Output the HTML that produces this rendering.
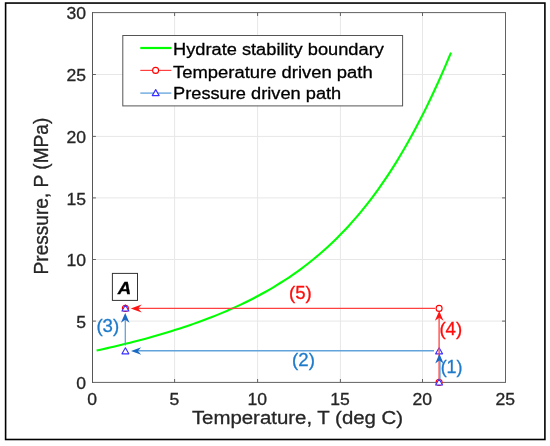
<!DOCTYPE html>
<html><head><meta charset="utf-8"><title>Hydrate stability</title>
<style>html,body{margin:0;padding:0;background:#fff}svg{display:block}text{font-family:"Liberation Sans", sans-serif}</style></head><body>
<svg width="550" height="446" viewBox="0 0 550 446">
<rect x="0" y="0" width="550" height="446" fill="#fff"/>
<rect x="5.60" y="3.05" width="539.30" height="436.45" fill="none" stroke="#000" stroke-width="1.6"/>
<line x1="174.60" y1="382.40" x2="174.60" y2="12.60" stroke="#e7e7e7" stroke-width="1"/>
<line x1="257.60" y1="382.40" x2="257.60" y2="12.60" stroke="#e7e7e7" stroke-width="1"/>
<line x1="340.40" y1="382.40" x2="340.40" y2="12.60" stroke="#e7e7e7" stroke-width="1"/>
<line x1="422.50" y1="382.40" x2="422.50" y2="12.60" stroke="#e7e7e7" stroke-width="1"/>
<line x1="92.50" y1="321.10" x2="505.50" y2="321.10" stroke="#e7e7e7" stroke-width="1"/>
<line x1="92.50" y1="259.50" x2="505.50" y2="259.50" stroke="#e7e7e7" stroke-width="1"/>
<line x1="92.50" y1="197.90" x2="505.50" y2="197.90" stroke="#e7e7e7" stroke-width="1"/>
<line x1="92.50" y1="136.40" x2="505.50" y2="136.40" stroke="#e7e7e7" stroke-width="1"/>
<line x1="92.50" y1="74.50" x2="505.50" y2="74.50" stroke="#e7e7e7" stroke-width="1"/>
<rect x="92.50" y="12.60" width="413.00" height="369.80" fill="none" stroke="#626262" stroke-width="1"/>
<line x1="92.50" y1="12.10" x2="92.50" y2="382.90" stroke="#565656"/>
<line x1="174.60" y1="382.40" x2="174.60" y2="379.00" stroke="#626262"/>
<line x1="174.60" y1="12.60" x2="174.60" y2="16.00" stroke="#626262"/>
<line x1="257.60" y1="382.40" x2="257.60" y2="379.00" stroke="#626262"/>
<line x1="257.60" y1="12.60" x2="257.60" y2="16.00" stroke="#626262"/>
<line x1="340.40" y1="382.40" x2="340.40" y2="379.00" stroke="#626262"/>
<line x1="340.40" y1="12.60" x2="340.40" y2="16.00" stroke="#626262"/>
<line x1="422.50" y1="382.40" x2="422.50" y2="379.00" stroke="#626262"/>
<line x1="422.50" y1="12.60" x2="422.50" y2="16.00" stroke="#626262"/>
<line x1="92.50" y1="321.10" x2="95.90" y2="321.10" stroke="#626262"/>
<line x1="505.50" y1="321.10" x2="502.10" y2="321.10" stroke="#626262"/>
<line x1="92.50" y1="259.50" x2="95.90" y2="259.50" stroke="#626262"/>
<line x1="505.50" y1="259.50" x2="502.10" y2="259.50" stroke="#626262"/>
<line x1="92.50" y1="197.90" x2="95.90" y2="197.90" stroke="#626262"/>
<line x1="505.50" y1="197.90" x2="502.10" y2="197.90" stroke="#626262"/>
<line x1="92.50" y1="136.40" x2="95.90" y2="136.40" stroke="#626262"/>
<line x1="505.50" y1="136.40" x2="502.10" y2="136.40" stroke="#626262"/>
<line x1="92.50" y1="74.50" x2="95.90" y2="74.50" stroke="#626262"/>
<line x1="505.50" y1="74.50" x2="502.10" y2="74.50" stroke="#626262"/>
<text transform="translate(92.20 405.20) scale(1.060 1.000)" font-size="16.6" fill="#262626" stroke="#262626" stroke-width="0.3" text-anchor="middle">0</text>
<text transform="translate(174.30 405.20) scale(1.060 1.000)" font-size="16.6" fill="#262626" stroke="#262626" stroke-width="0.3" text-anchor="middle">5</text>
<text transform="translate(257.30 405.20) scale(1.060 1.000)" font-size="16.6" fill="#262626" stroke="#262626" stroke-width="0.3" text-anchor="middle">10</text>
<text transform="translate(340.10 405.20) scale(1.060 1.000)" font-size="16.6" fill="#262626" stroke="#262626" stroke-width="0.3" text-anchor="middle">15</text>
<text transform="translate(422.20 405.20) scale(1.060 1.000)" font-size="16.6" fill="#262626" stroke="#262626" stroke-width="0.3" text-anchor="middle">20</text>
<text transform="translate(505.20 405.20) scale(1.060 1.000)" font-size="16.6" fill="#262626" stroke="#262626" stroke-width="0.3" text-anchor="middle">25</text>
<text transform="translate(86.00 389.10) scale(1.060 1.000)" font-size="16.6" fill="#262626" stroke="#262626" stroke-width="0.3" text-anchor="end">0</text>
<text transform="translate(86.00 327.80) scale(1.060 1.000)" font-size="16.6" fill="#262626" stroke="#262626" stroke-width="0.3" text-anchor="end">5</text>
<text transform="translate(86.00 266.20) scale(1.060 1.000)" font-size="16.6" fill="#262626" stroke="#262626" stroke-width="0.3" text-anchor="end">10</text>
<text transform="translate(86.00 204.60) scale(1.060 1.000)" font-size="16.6" fill="#262626" stroke="#262626" stroke-width="0.3" text-anchor="end">15</text>
<text transform="translate(86.00 143.10) scale(1.060 1.000)" font-size="16.6" fill="#262626" stroke="#262626" stroke-width="0.3" text-anchor="end">20</text>
<text transform="translate(86.00 81.20) scale(1.060 1.000)" font-size="16.6" fill="#262626" stroke="#262626" stroke-width="0.3" text-anchor="end">25</text>
<text transform="translate(86.00 19.30) scale(1.060 1.000)" font-size="16.6" fill="#262626" stroke="#262626" stroke-width="0.3" text-anchor="end">30</text>
<text transform="translate(297.50 424.20) scale(1.080 1.000)" font-size="18.9" fill="#262626" stroke="#262626" stroke-width="0.3" text-anchor="middle">Temperature, T (deg C)</text>
<text transform="translate(47.80 196.10) rotate(-90) scale(1.000 1.050)" font-size="19.1" fill="#262626" stroke="#262626" stroke-width="0.3" text-anchor="middle">Pressure, P (MPa)</text>
<path d="M96.60 350.48 C97.60 350.26 100.60 349.62 102.61 349.17 C104.61 348.73 106.61 348.28 108.61 347.83 C110.62 347.37 112.62 346.91 114.62 346.44 C116.62 345.98 118.62 345.50 120.63 345.02 C122.63 344.54 124.63 344.05 126.63 343.55 C128.64 343.06 130.64 342.56 132.64 342.04 C134.64 341.53 136.65 341.02 138.65 340.49 C140.65 339.97 142.65 339.43 144.65 338.89 C146.66 338.35 148.66 337.80 150.66 337.24 C152.66 336.68 154.67 336.12 156.67 335.54 C158.67 334.97 160.67 334.38 162.67 333.79 C164.68 333.20 166.68 332.59 168.68 331.98 C170.68 331.37 172.69 330.75 174.69 330.11 C176.69 329.48 178.69 328.84 180.69 328.19 C182.70 327.53 184.70 326.87 186.70 326.19 C188.70 325.52 190.71 324.83 192.71 324.13 C194.71 323.43 196.71 322.72 198.72 321.99 C200.72 321.27 202.72 320.53 204.72 319.78 C206.72 319.03 208.73 318.27 210.73 317.49 C212.73 316.71 214.73 315.92 216.74 315.11 C218.74 314.30 220.74 313.48 222.74 312.64 C224.74 311.80 226.75 310.94 228.75 310.07 C230.75 309.20 232.75 308.31 234.76 307.40 C236.76 306.49 238.76 305.56 240.76 304.62 C242.76 303.67 244.77 302.71 246.77 301.72 C248.77 300.73 250.77 299.73 252.78 298.70 C254.78 297.67 256.78 296.62 258.78 295.55 C260.79 294.47 262.79 293.38 264.79 292.26 C266.79 291.13 268.79 289.99 270.80 288.82 C272.80 287.64 274.80 286.45 276.80 285.22 C278.81 283.99 280.81 282.74 282.81 281.46 C284.81 280.17 286.81 278.86 288.82 277.52 C290.82 276.17 292.82 274.80 294.82 273.39 C296.83 271.98 298.83 270.53 300.83 269.06 C302.83 267.58 304.84 266.07 306.84 264.52 C308.84 262.96 310.84 261.38 312.84 259.75 C314.85 258.12 316.85 256.46 318.85 254.75 C320.85 253.04 322.86 251.29 324.86 249.49 C326.86 247.70 328.86 245.86 330.86 243.97 C332.87 242.09 334.87 240.16 336.87 238.17 C338.87 236.19 340.88 234.16 342.88 232.07 C344.88 229.99 346.88 227.86 348.88 225.67 C350.89 223.47 352.89 221.23 354.89 218.93 C356.89 216.62 358.90 214.26 360.90 211.84 C362.90 209.42 364.90 206.94 366.91 204.39 C368.91 201.85 370.91 199.24 372.91 196.56 C374.91 193.89 376.92 191.15 378.92 188.33 C380.92 185.52 382.92 182.64 384.93 179.69 C386.93 176.73 388.93 173.71 390.93 170.61 C392.93 167.51 394.94 164.33 396.94 161.08 C398.94 157.82 400.94 154.49 402.95 151.08 C404.95 147.66 406.95 144.17 408.95 140.59 C410.95 137.01 412.96 133.35 414.96 129.61 C416.96 125.86 418.96 122.03 420.97 118.11 C422.97 114.19 424.97 110.18 426.97 106.09 C428.98 101.99 430.98 97.81 432.98 93.53 C434.98 89.26 436.98 84.89 438.99 80.44 C440.99 75.98 442.99 71.43 444.99 66.80 C447.00 62.16 450.00 54.98 451.00 52.61" fill="none" stroke="#00ff00" stroke-width="2.1" stroke-linejoin="round" stroke-linecap="butt"/>
<circle cx="439.10" cy="382.40" r="3" fill="#fff" stroke="#ff0000" stroke-width="1.1"/>
<circle cx="439.10" cy="308.40" r="3" fill="#fff" stroke="#ff0000" stroke-width="1.1"/>
<circle cx="125.40" cy="308.40" r="3" fill="#fff" stroke="#ff0000" stroke-width="1.1"/>
<path d="M439.10 379.00 L442.55 385.00 L435.65 385.00 Z" fill="#fff" stroke="#3a30ff" stroke-width="1.15" stroke-linejoin="round"/>
<path d="M439.10 347.80 L442.55 353.80 L435.65 353.80 Z" fill="#fff" stroke="#3a30ff" stroke-width="1.15" stroke-linejoin="round"/>
<path d="M125.40 347.80 L128.85 353.80 L121.95 353.80 Z" fill="#fff" stroke="#3a30ff" stroke-width="1.15" stroke-linejoin="round"/>
<path d="M125.40 305.00 L128.85 311.00 L121.95 311.00 Z" fill="#fff" stroke="#3a30ff" stroke-width="1.15" stroke-linejoin="round"/>
<line x1="435.00" y1="308.40" x2="137.00" y2="308.40" stroke="#ff4040" stroke-width="1.2"/>
<path d="M130.70 308.40 L141.70 304.40 L138.18 308.40 L141.70 312.40 Z" fill="#ff1414"/>
<line x1="439.10" y1="379.30" x2="439.10" y2="318.00" stroke="#ff4040" stroke-width="1.3"/>
<path d="M439.20 311.00 L443.50 320.80 L439.20 317.66 L434.90 320.80 Z" fill="#ff1414"/>
<line x1="440.10" y1="379.50" x2="440.10" y2="360.00" stroke="#62a3dc" stroke-width="1.1"/>
<path d="M439.40 353.80 L443.60 363.60 L439.40 360.46 L435.20 363.60 Z" fill="#1a6ac4"/>
<line x1="434.00" y1="350.70" x2="137.00" y2="350.70" stroke="#62a3dc" stroke-width="1.4"/>
<path d="M131.00 351.00 L141.20 347.20 L137.94 351.00 L141.20 354.80 Z" fill="#1a6ac4"/>
<line x1="125.30" y1="345.50" x2="125.30" y2="319.00" stroke="#62a3dc" stroke-width="1.3"/>
<path d="M125.20 313.00 L129.50 322.80 L125.20 319.66 L120.90 322.80 Z" fill="#1a6ac4"/>
<rect x="112.4" y="273.4" width="25.1" height="27" fill="#fff" stroke="#333" stroke-width="1"/>
<text transform="translate(124.40 293.50) scale(1.150 1.000)" font-size="16.2" fill="#000" stroke="#000" stroke-width="0.3" text-anchor="middle" font-weight="bold" font-style="italic">A</text>
<text transform="translate(107.80 332.10) scale(1.060 1.000)" font-size="17.6" fill="#1e7bcb" stroke="#1e7bcb" stroke-width="0.3" text-anchor="middle">(3)</text>
<text transform="translate(303.50 365.50) scale(1.060 1.000)" font-size="17.6" fill="#1e7bcb" stroke="#1e7bcb" stroke-width="0.3" text-anchor="middle">(2)</text>
<text transform="translate(451.60 372.80) scale(1.020 1.000)" font-size="17.6" fill="#1e7bcb" stroke="#1e7bcb" stroke-width="0.3" text-anchor="middle">(1)</text>
<text transform="translate(300.40 298.80) scale(1.060 1.000)" font-size="17.6" fill="#ff0d0d" stroke="#ff0d0d" stroke-width="0.3" text-anchor="middle">(5)</text>
<text transform="translate(450.80 334.60) scale(1.060 1.000)" font-size="17.6" fill="#ff0d0d" stroke="#ff0d0d" stroke-width="0.3" text-anchor="middle">(4)</text>
<rect x="122.80" y="35.50" width="279.80" height="70.40" fill="#fff" stroke="#555" stroke-width="1"/>
<line x1="140.3" y1="48" x2="171.4" y2="48" stroke="#00ff00" stroke-width="2.2"/>
<line x1="140.3" y1="70.4" x2="171.4" y2="70.4" stroke="#ff4040" stroke-width="1.2"/>
<line x1="140.3" y1="93.1" x2="171.4" y2="93.1" stroke="#62a3dc" stroke-width="1.3"/>
<circle cx="155.60" cy="70.40" r="3" fill="#fff" stroke="#ff0000" stroke-width="1.1"/>
<path d="M155.70 89.60 L159.15 95.60 L152.25 95.60 Z" fill="#fff" stroke="#3a30ff" stroke-width="1.15" stroke-linejoin="round"/>
<text transform="translate(173.00 54.90) scale(1.067 1.000)" font-size="17.1" fill="#000" stroke="#000" stroke-width="0.3" text-anchor="start">Hydrate stability boundary</text>
<text transform="translate(173.00 77.50) scale(1.078 1.000)" font-size="17.1" fill="#000" stroke="#000" stroke-width="0.3" text-anchor="start">Temperature driven path</text>
<text transform="translate(173.00 99.30) scale(1.067 1.000)" font-size="17.1" fill="#000" stroke="#000" stroke-width="0.3" text-anchor="start">Pressure driven path</text>
</svg></body></html>
